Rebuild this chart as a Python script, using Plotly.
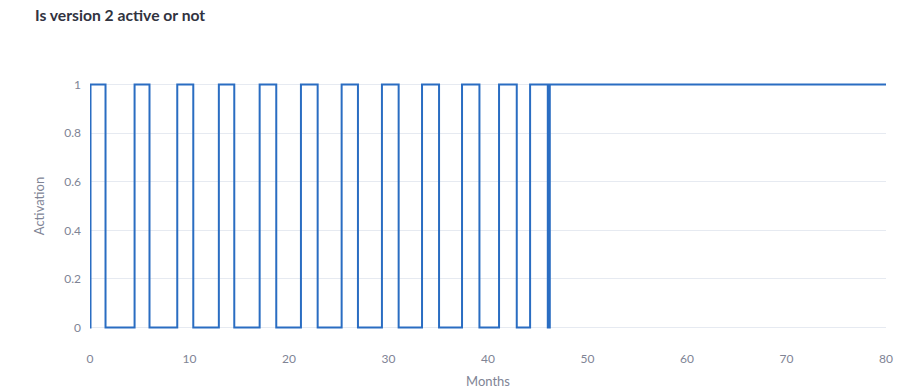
import plotly.graph_objects as go

# Change points (months) and activation state from that month onward
months = [0, 0.05, 1.56, 4.48, 5.98, 8.77, 10.38, 12.95, 14.50, 17.05, 18.72,
          21.20, 22.88, 25.29, 26.93, 29.34, 31.02, 33.37, 35.08, 37.39, 39.14,
          41.11, 42.89, 44.23, 46.01, 46.21, 80]
activation = [0, 1, 0, 1, 0, 1, 0, 1, 0, 1, 0,
              1, 0, 1, 0, 1, 0, 1, 0, 1, 0,
              1, 0, 1, 0, 1, 1]

x_ticks = [0, 10, 20, 30, 40, 50, 60, 70, 80]
y_ticks = [0, 0.2, 0.4, 0.6, 0.8, 1]

W, H = 924, 389
left, right, top, bottom = 90, 38, 71.3, 48.2

fig = go.Figure(go.Scatter(
    x=months, y=activation, mode="lines", line_shape="hv",
    line=dict(color="#2a6dc2", width=2), showlegend=False,
))

font_family = "Source Sans Pro, Lato, Noto Sans, sans-serif"
tick_color = "#808495"

fig.update_layout(
    width=W, height=H,
    margin=dict(l=left, r=right, t=top, b=bottom, autoexpand=False),
    paper_bgcolor="white", plot_bgcolor="white",
    font=dict(family=font_family, color=tick_color, size=12),
    title=dict(text="<b>Is version 2 active or not</b>", x=35 / W, xanchor="left",
               xref="container", yref="container", y=1 - 15.5 / H, yanchor="middle",
               font=dict(family=font_family, size=15.7, color="#31333F")),
)
fig.update_xaxes(
    range=[0, 80], tickvals=x_ticks, ticktext=[str(v) for v in x_ticks],
    showgrid=False, zeroline=False, showline=False,
    ticklabelstandoff=9,
    title=dict(text="Months", font=dict(size=13, color=tick_color), standoff=14),
    tickfont=dict(size=12, color=tick_color),
)
fig.update_yaxes(
    range=[-0.0555, 1.0555], tickvals=y_ticks, ticktext=["0", "0.2", "0.4", "0.6", "0.8", "1"],
    showgrid=True, gridcolor="#e6eaf1", gridwidth=1, zeroline=False, showline=False,
    ticklabelstandoff=8,
    title=dict(text="Activation", font=dict(size=13, color=tick_color), standoff=16),
    tickfont=dict(size=12, color=tick_color), ticks="", ticklen=0,
)

fig.write_html("out.html")
